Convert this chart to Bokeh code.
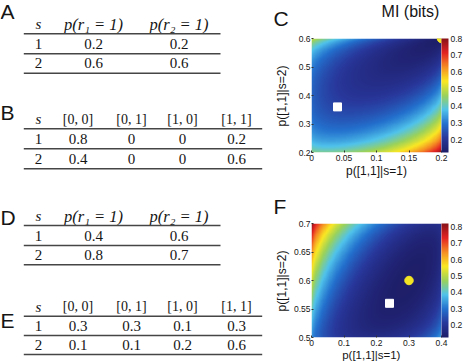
import numpy as np
from bokeh.plotting import figure
from bokeh.layouts import row, column
from bokeh.models import Range1d, LinearColorMapper, ColorBar, FixedTicker
from bokeh.core.properties import value
from bokeh.embed import file_html
from bokeh.resources import INLINE

# ---------------- data ----------------
states = ["1", "2"]
# table A: marginals p(r_i = 1 | s)
a_p_r1 = [0.2, 0.6]
a_p_r2 = [0.2, 0.6]
# table B: joint word probabilities p([r1,r2] | s)
words = ["[0, 0]", "[0, 1]", "[1, 0]", "[1, 1]"]
b_s1 = [0.8, 0, 0, 0.2]
b_s2 = [0.4, 0, 0, 0.6]
# table D
d_p_r1 = [0.4, 0.8]
d_p_r2 = [0.6, 0.7]
# table E
e_s1 = [0.3, 0.3, 0.1, 0.3]
e_s2 = [0.1, 0.1, 0.2, 0.6]
# tick labels
c_xticks = [0, 0.05, 0.1, 0.15, 0.2]
c_yticks = [0.2, 0.3, 0.4, 0.5, 0.6]
f_xticks = [0, 0.1, 0.2, 0.3, 0.4]
f_yticks = [0.5, 0.55, 0.6, 0.65, 0.7]
cbar_ticks = [0.2, 0.3, 0.4, 0.5, 0.6, 0.7, 0.8]
x_label = "p([1,1]|s=1)"
y_label = "p([1,1]|s=2)"
cbar_title = "MI (bits)"

# ---------------- layout (page pixels) ----------------
W, H = 474, 361
SPLIT_X = 290
C_FRAME = (303.3, 37.7, 441.0, 153.3)   # left, top, right, bottom
F_FRAME = (308.3, 223.3, 441.0, 337.7)
TOP_STRIP, C_BOTTOM, F_BOTTOM = 20, 180, 348

SERIF = value("Liberation Serif")
SANS = value("Liberation Sans")
INK = "#151515"

# jet-like colour map with the muted blues of the printed figure
_anchors = [(0.0, (30, 30, 105)), (0.125, (40, 55, 155)), (0.25, (35, 112, 205)),
            (0.375, (80, 195, 235)), (0.5, (155, 210, 90)), (0.625, (250, 232, 35)),
            (0.75, (245, 140, 35)), (0.875, (228, 35, 35)), (1.0, (135, 18, 25))]


def make_palette(n=256):
    ts = [a[0] for a in _anchors]
    cs = np.array([a[1] for a in _anchors], dtype=float)
    out = []
    for i in range(n):
        t = i / (n - 1)
        rgb = [np.interp(t, ts, cs[:, k]) for k in range(3)]
        out.append("#%02x%02x%02x" % tuple(int(round(v)) for v in rgb))
    return out


PALETTE = make_palette()


def mi_surface(m1, m2, n=240):
    """Mutual information between s and [r1,r2] as p([1,1]|s) varies with the marginals fixed."""
    a_lo, a_hi = max(0.0, m1[0] + m1[1] - 1), min(m1)
    b_lo, b_hi = max(0.0, m2[0] + m2[1] - 1), min(m2)
    A, B = np.meshgrid(np.linspace(a_lo, a_hi, n), np.linspace(b_lo, b_hi, n))

    def joint(m, c):
        return np.clip(np.stack([1 - m[0] - m[1] + c, m[1] - c, m[0] - c, c]), 0, None)

    def ent(P):
        safe = np.where(P > 0, P, 1.0)
        return -(np.where(P > 0, P * np.log2(safe), 0.0)).sum(0)

    P1, P2 = joint(m1, A), joint(m2, B)
    return ent(0.5 * (P1 + P2)) - 0.5 * (ent(P1) + ent(P2)), (a_lo, a_hi, b_lo, b_hi)


def canvas(x0, x1, y0, y1):
    p = figure(width=x1 - x0, height=y1 - y0, x_range=Range1d(x0, x1), y_range=Range1d(y1, y0),
               output_backend="svg", toolbar_location=None, x_axis_location=None,
               y_axis_location=None, min_border=0, outline_line_color=None)
    p.grid.visible = False
    return p


def txt(p, xs, ys, texts, size="15px", font=SERIF, style="normal", align="center", angle=0.0):
    p.text(x=xs, y=ys, text=texts, text_font=font, text_font_size=size, text_font_style=style,
           text_align=align, text_baseline="middle", text_color=INK, angle=angle)


def fmt(v):
    return f"{v:g}"


# ---------------- left canvas: tables ----------------
left = canvas(0, SPLIT_X, 0, H)
LINE_COL = "#454545"


def rules(p, ys, x0, x1):
    p.segment(x0=[x0] * len(ys), y0=ys, x1=[x1] * len(ys), y1=ys, line_color=LINE_COL, line_width=1.4)


def marg_table(p, lines, r1, r2):
    cols = [38, 93, 178.5]
    txt(p, [cols[0]], [lines[0] - 9.5], ["s"], style="italic")
    txt(p, cols[1:], [lines[0] - 9.5] * 2, ["p(r\u2081 = 1)", "p(r\u2082 = 1)"], size="16.5px",
        style="italic")
    for i, s in enumerate(states):
        yc = lines[i + 1] - 10
        txt(p, cols, [yc] * 3, [s, fmt(r1[i]), fmt(r2[i])])
    rules(p, lines, 23.3, 220)


def word_table(p, lines, s1, s2):
    cols = [38, 77.5, 131, 182, 236]
    txt(p, [cols[0]], [lines[0] - 9.5], ["s"], style="italic")
    txt(p, cols[1:], [lines[0] - 9.5] * 4, words, size="14px")
    for i, vals in enumerate([s1, s2]):
        yc = lines[i + 1] - 10
        txt(p, cols, [yc] * 5, [states[i]] + [fmt(v) for v in vals])
    rules(p, lines, 23.3, 261.7)


marg_table(left, [33.3, 53.3, 72.7], a_p_r1, a_p_r2)
word_table(left, [128.3, 148.3, 168.3], b_s1, b_s2)
marg_table(left, [225, 245, 264.3], d_p_r1, d_p_r2)
word_table(left, [315.7, 335, 354], e_s1, e_s2)

# panel letters
txt(left, [0, 0, 0, 0, 273, 273], [11, 112, 217, 319.5, 17.5, 206], ["A", "B", "D", "E", "C", "F"],
    size="21px", font=SANS, align="left")
# y-axis titles of the two heat maps
txt(left, [281.7, 281.7], [(C_FRAME[1] + C_FRAME[3]) / 2, (F_FRAME[1] + F_FRAME[3]) / 2],
    [y_label, y_label], size="12px", font=SANS, angle=np.pi / 2)

# ---------------- right column ----------------
top = canvas(SPLIT_X, W, 0, TOP_STRIP)
txt(top, [471], [10.5], [cbar_title], size="16px", font=SANS, align="right")


def heat_panel(y0, y1, frame, m1, m2, w_s1, w_s2, xticks, yticks, with_xlabel):
    mi, (a_lo, a_hi, b_lo, b_hi) = mi_surface(m1, m2)
    p = figure(width=W - SPLIT_X, height=y1 - y0, x_range=Range1d(a_lo, a_hi), y_range=Range1d(b_lo, b_hi),
               output_backend="svg", toolbar_location=None,
               min_border_left=round(frame[0] - SPLIT_X), min_border_right=round(W - frame[2]),
               min_border_top=round(frame[1] - y0), min_border_bottom=round(y1 - frame[3]),
               outline_line_color=None)
    p.grid.visible = False
    mapper = LinearColorMapper(palette=PALETTE, low=float(mi.min()), high=float(mi.max()))
    p.image(image=[mi], x=a_lo, y=b_lo, dw=a_hi - a_lo, dh=b_hi - b_lo, color_mapper=mapper)
    # independent model (product of marginals) and the correlated model of the word table
    p.scatter(x=[m1[0] * m1[1]], y=[m2[0] * m2[1]], marker="square", size=8, color="white")
    p.scatter(x=[w_s1[3]], y=[w_s2[3]], marker="circle", size=8.5, color="#f3e524")

    for ax, ticks in ((p.xaxis[0], xticks), (p.yaxis[0], yticks)):
        ax.ticker = FixedTicker(ticks=ticks)
        ax.major_label_overrides = {t: fmt(t) for t in ticks}
        ax.axis_line_color = None
        ax.major_tick_in = 2
        ax.major_tick_out = 0
        ax.major_tick_line_color = "#333333"
        ax.minor_tick_line_color = None
        ax.major_label_text_font = "Liberation Sans"
        ax.major_label_text_font_size = "8.5px"
        ax.major_label_text_color = INK
        ax.axis_label_text_font = "Liberation Sans"
        ax.axis_label_text_font_size = "12px"
        ax.axis_label_text_font_style = "normal"
        ax.axis_label_text_color = INK
        ax.axis_label_standoff = 0
    if with_xlabel:
        p.xaxis.axis_label = x_label
    p.xaxis.major_label_standoff = 2
    p.yaxis.major_label_standoff = 1

    cb = ColorBar(color_mapper=mapper, ticker=FixedTicker(ticks=cbar_ticks), width=7,
                  padding=0, margin=6, label_standoff=2, major_tick_line_color=None,
                  bar_line_color=None, border_line_color=None, background_fill_alpha=0,
                  major_label_text_font="Liberation Sans", major_label_text_font_size="8.5px",
                  major_label_text_color=INK)
    p.add_layout(cb, "right")
    return p


figC = heat_panel(TOP_STRIP, C_BOTTOM, C_FRAME, (a_p_r1[0], a_p_r2[0]), (a_p_r1[1], a_p_r2[1]),
                  b_s1, b_s2, c_xticks, c_yticks, True)
figF = heat_panel(C_BOTTOM, F_BOTTOM, F_FRAME, (d_p_r1[0], d_p_r2[0]), (d_p_r1[1], d_p_r2[1]),
                  e_s1, e_s2, f_xticks, f_yticks, False)
bottom = canvas(SPLIT_X, W, F_BOTTOM, H)
txt(bottom, [(F_FRAME[0] + F_FRAME[2]) / 2], [354.3], [x_label], size="11.5px", font=SANS)

p = row(left, column(top, figC, figF, bottom))
open("out.html", "w").write(file_html(p, INLINE))
